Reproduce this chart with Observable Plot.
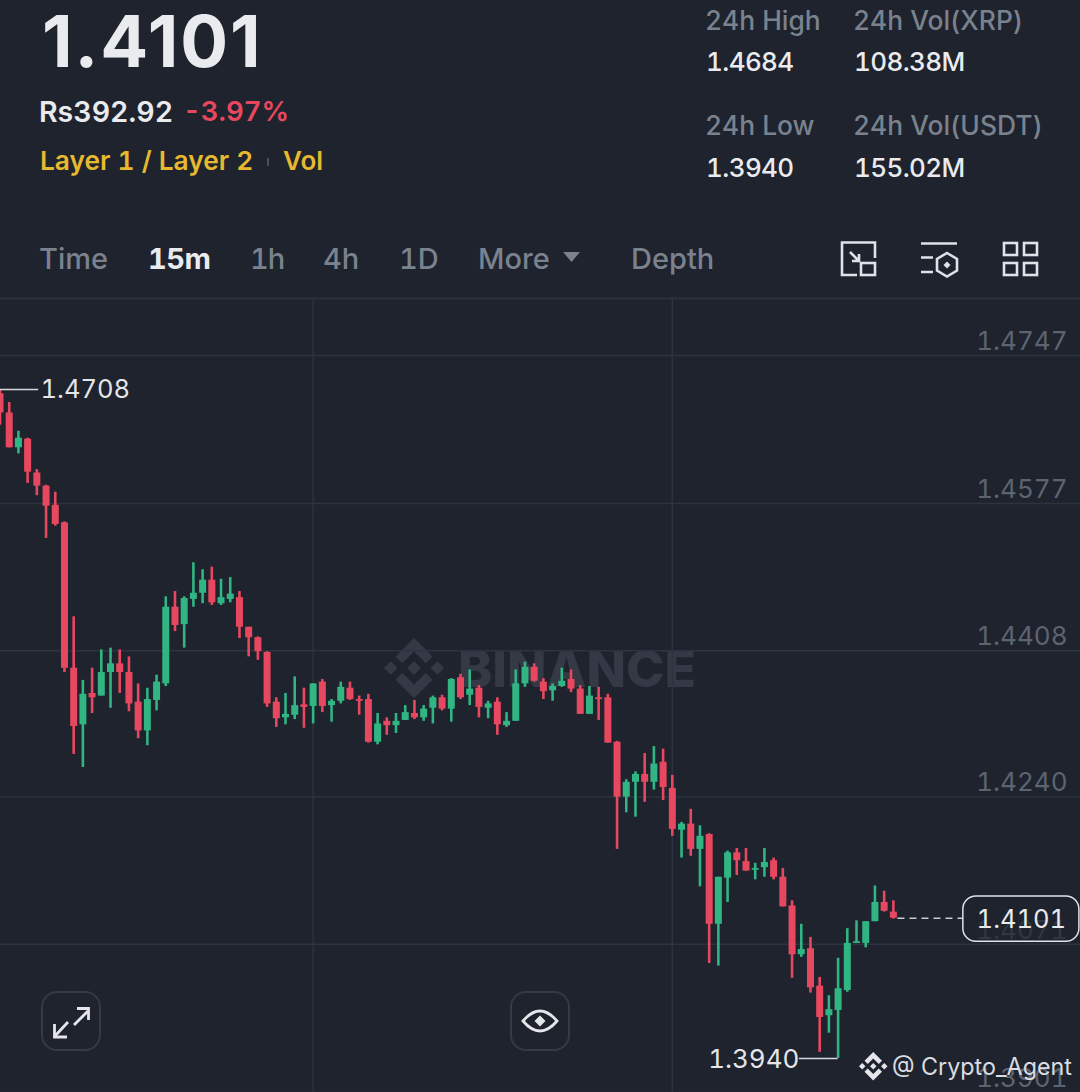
<!DOCTYPE html>
<html><head><meta charset="utf-8">
<script src="https://cdn.jsdelivr.net/npm/d3@7"></script>
<script src="https://cdn.jsdelivr.net/npm/@observablehq/plot@0.6"></script>
<style>
html,body{margin:0;padding:0;background:#1e232e;width:1080px;height:1092px;overflow:hidden;font-family:Inter,"Noto Sans",sans-serif}
#page{position:relative;width:1080px;height:1092px}
.t{position:absolute;white-space:nowrap;line-height:1.1;font-variant-numeric:tabular-nums}
.g{color:#7a828e;font-weight:500}
.w{color:#e9ebee;font-weight:600}
#chart{position:absolute;left:0;top:298px;width:1080px;height:794px}
#chart svg{display:block;background:transparent}
.ov{position:absolute;left:0;top:0;pointer-events:none}
</style></head><body>
<div id="page">
<div class="t" style="left:42px;top:2px;font-size:71px;font-weight:700;color:#e9ebee;font-variant-numeric:normal;letter-spacing:2px">1.4101</div>
<div class="t w" style="left:39px;top:96px;font-size:28.500px">Rs392.92</div>
<div class="t" style="left:183px;top:96px;font-size:27.500px;font-weight:600;color:#e8485f">-3.97%</div>
<div class="t" style="left:40px;top:147px;font-size:26.300px;font-weight:600;color:#e6b92f">Layer 1 / Layer 2</div>
<div class="t" style="left:283px;top:147px;font-size:26px;font-weight:600;color:#e6b92f">Vol</div>
<div class="t g" style="left:705px;top:6px;font-size:26.400px">24h High</div>
<div class="t w" style="left:706px;top:48px;font-size:26px;font-weight:500;letter-spacing:-0.6px">1.4684</div>
<div class="t g" style="left:853px;top:6px;font-size:26.400px">24h Vol(XRP)</div>
<div class="t w" style="left:854px;top:48px;font-size:26px;font-weight:500;letter-spacing:-0.6px">108.38M</div>
<div class="t g" style="left:705px;top:111px;font-size:26.400px">24h Low</div>
<div class="t w" style="left:706px;top:154px;font-size:26px;font-weight:500;letter-spacing:-0.6px">1.3940</div>
<div class="t g" style="left:853px;top:111px;font-size:26.400px">24h Vol(USDT)</div>
<div class="t w" style="left:854px;top:154px;font-size:26px;font-weight:500;letter-spacing:-0.6px">155.02M</div>
<div class="t g" style="left:39px;top:243px;font-size:29px">Time</div>
<div class="t" style="left:148px;top:243px;font-size:29px;font-weight:700;color:#e9ebee;letter-spacing:-0.5px">15m</div>
<div class="t g" style="left:250px;top:243px;font-size:29px;letter-spacing:-1px">1h</div>
<div class="t g" style="left:323px;top:243px;font-size:29px">4h</div>
<div class="t g" style="left:399px;top:243px;font-size:29px">1D</div>
<div class="t g" style="left:478px;top:243px;font-size:29px">More</div>
<div class="t g" style="left:631px;top:243px;font-size:29px">Depth</div>

<svg class="ov" width="1080" height="1092" style="z-index:0">
  <defs><path id="bnb" d="M38.73 53.2L63.3 28.63l24.59 24.58 14.3-14.3L63.3 0 24.42 38.88zM0 63.31l14.3-14.3 14.3 14.3-14.3 14.3zM38.73 73.41L63.3 97.98l24.59-24.58 14.31 14.29-38.9 38.91-38.88-38.88-.02-.02zM97.99 63.31l14.3-14.3 14.3 14.3-14.3 14.3zM77.83 63.3L63.3 48.76 52.56 59.5l-1.24 1.24-2.54 2.54 0 .03 14.52 14.52L77.83 63.3z"/></defs>
  <line x1="0" x2="1080" y1="298.5" y2="298.5" stroke="#2c313c" stroke-width="2"/>
  <rect x="267" y="158" width="2" height="8" fill="#4a505b"/>
  <path d="M563 252h17l-8.500 10z" fill="#7a828e"/>
  <g fill="none" stroke="#dfe2e6" stroke-width="2.600">
    <path d="M857 275H842V242.500H875V258"/><rect x="861" y="263" width="14" height="12"/>
    <path d="M850 252l9 9M852 261h7v-7"/>
    <path d="M921 243.500h36M921 257.500h12M921 272h12"/>
    <path d="M947 253l10 6v11.500l-10 6-10-6V259z"/><path d="M947 261.500l3.500 3.500-3.500 3.500-3.500-3.500z" fill="#dfe2e6" stroke="none"/>
    <rect x="1004" y="243" width="13" height="12"/><rect x="1024" y="243" width="13" height="12"/>
    <rect x="1004" y="263" width="13" height="12"/><rect x="1024" y="263" width="13" height="12"/>
  </g>
  <text x="458" y="687" font-family="Inter" font-weight="800" font-size="51" fill="#343945" textLength="238" lengthAdjust="spacingAndGlyphs">BINANCE</text>
  <use href="#bnb" transform="translate(384,638) scale(0.475)" fill="#343945"/>
</svg>

<div id="chart" style="z-index:1"></div>

<svg class="ov" width="1080" height="1092" style="z-index:2">
  <g fill="#1e232e" stroke="#343a46" stroke-width="2">
    <rect x="42" y="992" width="58" height="58" rx="15"/>
    <rect x="511" y="992" width="58" height="58" rx="15"/>
  </g>
  <g fill="none" stroke="#e4e6ea" stroke-width="2.800">
    <path d="M74 1025l14-14"/>
    <path d="M77 1008.500H88.500V1020"/>
    <path d="M68 1022l-13 14"/>
    <path d="M54.500 1024V1037H67"/>
    <path d="M523 1021q17-20 34 0q-17 20-34 0z"/>
  </g>
  <path d="M540 1015.500l5.500 5.500-5.500 5.500-5.500-5.500z" fill="#e4e6ea"/>
  <use href="#bnb" transform="translate(859,1052) scale(0.225)" fill="#e4e6ea"/>
  <text x="892" y="1075" font-family="Inter" font-size="24" fill="#d9dce0" textLength="180" lengthAdjust="spacingAndGlyphs">@ Crypto_Agent</text>
</svg>
</div>
<script>
const high=[1.4707,1.4693,1.4660,1.4652,1.4616,1.4598,1.4590,1.4556,1.4447,1.4374,1.4388,1.4409,1.4411,1.4409,1.4401,1.4370,1.4365,1.4380,1.4470,1.4476,1.4470,1.4509,1.4501,1.4504,1.4490,1.4492,1.4476,1.4435,1.4424,1.4407,1.4354,1.4359,1.4378,1.4365,1.4370,1.4375,1.4352,1.4372,1.4372,1.4356,1.4358,1.4336,1.4331,1.4336,1.4345,1.4351,1.4345,1.4356,1.4357,1.4376,1.4381,1.4386,1.4368,1.4350,1.4354,1.4337,1.4386,1.4395,1.4393,1.4376,1.4370,1.4388,1.4386,1.4368,1.4367,1.4366,1.4358,1.4304,1.4260,1.4269,1.4290,1.4298,1.4295,1.4265,1.4211,1.4226,1.4207,1.4198,1.4148,1.4178,1.4181,1.4181,1.4164,1.4181,1.4170,1.4158,1.4121,1.4094,1.4079,1.4033,1.4012,1.4055,1.4089,1.4098,1.4097,1.4138,1.4132,1.4121];
const low=[1.4667,1.4641,1.4634,1.4600,1.4586,1.4537,1.4551,1.4383,1.4289,1.4274,1.4336,1.4356,1.4342,1.4359,1.4338,1.4307,1.4299,1.4339,1.4367,1.4430,1.4411,1.4458,1.4462,1.4460,1.4460,1.4463,1.4422,1.4401,1.4397,1.4343,1.4320,1.4323,1.4329,1.4319,1.4324,1.4337,1.4326,1.4347,1.4351,1.4334,1.4302,1.4300,1.4311,1.4313,1.4328,1.4329,1.4327,1.4324,1.4339,1.4326,1.4352,1.4345,1.4331,1.4330,1.4311,1.4320,1.4327,1.4366,1.4372,1.4352,1.4350,1.4366,1.4360,1.4335,1.4335,1.4328,1.4302,1.4180,1.4222,1.4217,1.4234,1.4248,1.4236,1.4195,1.4170,1.4172,1.4137,1.4049,1.4046,1.4119,1.4150,1.4155,1.4145,1.4148,1.4145,1.4114,1.4032,1.4056,1.4015,1.3947,1.3969,1.3940,1.4016,1.4072,1.4067,1.4097,1.4108,1.4100];
const bodyTop=[1.4703,1.4681,1.4652,1.4651,1.4612,1.4597,1.4575,1.4555,1.4388,1.4358,1.4359,1.4383,1.4393,1.4393,1.4383,1.4349,1.4352,1.4372,1.4458,1.4458,1.4468,1.4474,1.4489,1.4489,1.4469,1.4473,1.4469,1.4435,1.4423,1.4406,1.4349,1.4335,1.4345,1.4346,1.4370,1.4372,1.4350,1.4366,1.4365,1.4352,1.4352,1.4324,1.4327,1.4327,1.4337,1.4336,1.4341,1.4354,1.4354,1.4375,1.4377,1.4364,1.4365,1.4347,1.4349,1.4327,1.4370,1.4389,1.4389,1.4372,1.4367,1.4373,1.4375,1.4364,1.4356,1.4354,1.4354,1.4303,1.4257,1.4266,1.4266,1.4278,1.4280,1.4250,1.4209,1.4209,1.4195,1.4197,1.4148,1.4176,1.4176,1.4166,1.4158,1.4165,1.4167,1.4148,1.4115,1.4065,1.4066,1.4023,1.3996,1.4020,1.4072,1.4074,1.4097,1.4119,1.4119,1.4108];
const bodyBottom=[1.4681,1.4641,1.4641,1.4613,1.4597,1.4574,1.4553,1.4388,1.4321,1.4323,1.4354,1.4356,1.4383,1.4383,1.4347,1.4316,1.4316,1.4351,1.4370,1.4437,1.4438,1.4467,1.4474,1.4463,1.4462,1.4467,1.4435,1.4423,1.4407,1.4347,1.4330,1.4331,1.4334,1.4343,1.4344,1.4344,1.4345,1.4350,1.4352,1.4350,1.4303,1.4303,1.4322,1.4322,1.4328,1.4331,1.4331,1.4342,1.4341,1.4341,1.4354,1.4357,1.4343,1.4342,1.4323,1.4322,1.4327,1.4370,1.4373,1.4361,1.4362,1.4367,1.4364,1.4335,1.4335,1.4352,1.4302,1.4240,1.4240,1.4257,1.4257,1.4257,1.4251,1.4203,1.4202,1.4180,1.4180,1.4094,1.4094,1.4147,1.4167,1.4155,1.4156,1.4159,1.4148,1.4114,1.4059,1.4059,1.4021,1.3987,1.3989,1.3995,1.4018,1.4072,1.4072,1.4097,1.4109,1.4101];
const upCandles=[2,9,11,12,16,17,18,20,21,22,24,25,31,32,34,36,37,41,43,44,46,47,49,51,53,55,56,57,60,61,64,68,69,71,74,76,78,79,82,83,87,90,91,92,93,94,95];
const priceTicks=[1.4747,1.4577,1.4408,1.4240,1.4071,1.3901];
const timeGrid=[34,73];
const lastPrice=1.4101, dayHigh=1.4708, dayLow=1.3940, dayLowIndex=91;

const green="#31b583", red="#e8485f", bg="#1e232e", gridC="#2d333f";
const candles=high.map((h,i)=>({i,high:h,low:low[i],top:bodyTop[i],bottom:bodyBottom[i],dir:upCandles.includes(i)?"up":"down"}));
const font="Inter,'Noto Sans',sans-serif";

const chart=Plot.plot({
  width:1080,height:794,margin:0,
  style:{background:"transparent",fontFamily:font},
  x:{domain:[0.054,117.32],axis:null},
  y:{domain:[1.39009,1.48124]},
  color:{domain:["up","down"],range:[green,red]},
  marks:[
    Plot.gridX(timeGrid,{stroke:gridC,strokeOpacity:1,strokeWidth:1.5}),
    Plot.gridY(priceTicks,{stroke:gridC,strokeOpacity:1,strokeWidth:1.5}),
    Plot.axisY(priceTicks,{anchor:"right",tickSize:0,tickPadding:0,textAnchor:"end",dx:-13,dy:-14,fontSize:26,fill:"#5d6470",tickFormat:d=>d.toFixed(4),label:null}),
    Plot.ruleX(candles,{x:"i",y1:"low",y2:"high",stroke:"dir",strokeWidth:2.6}),
    Plot.ruleX(candles,{x:"i",y1:"bottom",y2:"top",stroke:"dir",strokeWidth:7}),
    Plot.ruleY([dayHigh],{x1:0.054,x2:4.2,stroke:"#d5d8dc",strokeWidth:1.5}),
    Plot.text([dayHigh],{x:4.4,y:d=>d,text:d=>d.toFixed(4),textAnchor:"start",fontSize:25.5,fontVariant:"tabular-nums",fill:"#e4e6ea"}),
    Plot.ruleY([dayLow],{x1:86.8,x2:dayLowIndex,stroke:"#d5d8dc",strokeWidth:1.5}),
    Plot.text([dayLow],{x:86.8,y:d=>d,dy:1,text:d=>d.toFixed(4),textAnchor:"end",fontSize:26,fontVariant:"tabular-nums",fill:"#e4e6ea"}),
    Plot.ruleY([lastPrice],{x1:97.5,x2:104.6,stroke:"#c9ccd1",strokeWidth:1.5,strokeDasharray:"7,5"}),
    Plot.rect([lastPrice],{x1:104.6,x2:117.2,y1:d=>d-0.0027,y2:d=>d+0.0025,rx:13,fill:bg,fillOpacity:0.7,stroke:"#dfe2e6",strokeWidth:1.5}),
    Plot.text([lastPrice],{x:110.9,y:d=>d,dy:2,text:d=>d.toFixed(4),fontSize:25.5,fontVariant:"tabular-nums",fill:"#e9ebee"})
  ]
});
document.getElementById("chart").appendChild(chart);
</script>
</body></html>
